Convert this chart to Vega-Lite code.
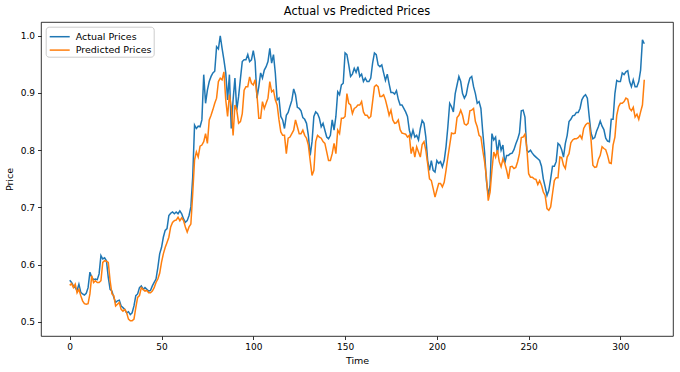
{
"$schema":"https://vega.github.io/schema/vega-lite/v6.json",
"width":632,"height":314,
"autosize":{"type":"none"},
"padding":{"left":41,"top":22,"right":7,"bottom":36},
"background":"white",
"title":{"text":"Actual vs Predicted Prices","font":"DejaVu Sans","fontSize":11.4,"fontWeight":"normal","offset":5,"color":"black"},
"config":{"view":{"stroke":"black","strokeWidth":0.8},"axis":{"grid":false,"domain":false,"tickColor":"black","tickSize":3.5,"tickWidth":0.8,"labelFont":"DejaVu Sans","labelFontSize":9,"labelColor":"black","labelPadding":3,"titleFont":"DejaVu Sans","titleFontSize":9.5,"titleFontWeight":"normal","titleColor":"black"}},
"data":{"values":[
{"t":0,"a":0.573,"p":0.564},{"t":1,"a":0.569,"p":0.567},{"t":2,"a":0.563,"p":0.560},{"t":3,"a":0.560,"p":0.566},{"t":4,"a":0.555,"p":0.551},{"t":5,"a":0.566,"p":0.557},{"t":6,"a":0.552,"p":0.546},{"t":7,"a":0.549,"p":0.537},{"t":8,"a":0.547,"p":0.532},{"t":9,"a":0.550,"p":0.531},
{"t":10,"a":0.560,"p":0.532},{"t":11,"a":0.587,"p":0.549},{"t":12,"a":0.578,"p":0.581},{"t":13,"a":0.574,"p":0.569},{"t":14,"a":0.575,"p":0.572},{"t":15,"a":0.574,"p":0.569},{"t":16,"a":0.584,"p":0.569},{"t":17,"a":0.616,"p":0.572},{"t":18,"a":0.610,"p":0.604},{"t":19,"a":0.612,"p":0.607},
{"t":20,"a":0.607,"p":0.606},{"t":21,"a":0.578,"p":0.604},{"t":22,"a":0.557,"p":0.572},{"t":23,"a":0.554,"p":0.549},{"t":24,"a":0.543,"p":0.546},{"t":25,"a":0.534,"p":0.528},{"t":26,"a":0.537,"p":0.531},{"t":27,"a":0.538,"p":0.534},{"t":28,"a":0.528,"p":0.522},{"t":29,"a":0.525,"p":0.519},
{"t":30,"a":0.522,"p":0.522},{"t":31,"a":0.516,"p":0.516},{"t":32,"a":0.518,"p":0.505},{"t":33,"a":0.513,"p":0.502},{"t":34,"a":0.516,"p":0.502},{"t":35,"a":0.528,"p":0.505},{"t":36,"a":0.546,"p":0.525},{"t":37,"a":0.549,"p":0.543},{"t":38,"a":0.560,"p":0.546},{"t":39,"a":0.563,"p":0.560},
{"t":40,"a":0.557,"p":0.557},{"t":41,"a":0.560,"p":0.554},{"t":42,"a":0.557,"p":0.555},{"t":43,"a":0.554,"p":0.551},{"t":44,"a":0.555,"p":0.551},{"t":45,"a":0.563,"p":0.554},{"t":46,"a":0.569,"p":0.560},{"t":47,"a":0.575,"p":0.569},{"t":48,"a":0.595,"p":0.575},{"t":49,"a":0.619,"p":0.585},
{"t":50,"a":0.630,"p":0.604},{"t":51,"a":0.648,"p":0.619},{"t":52,"a":0.660,"p":0.630},{"t":53,"a":0.663,"p":0.639},{"t":54,"a":0.686,"p":0.648},{"t":55,"a":0.690,"p":0.666},{"t":56,"a":0.692,"p":0.674},{"t":57,"a":0.689,"p":0.677},{"t":58,"a":0.692,"p":0.678},{"t":59,"a":0.689,"p":0.683},
{"t":60,"a":0.694,"p":0.677},{"t":61,"a":0.689,"p":0.682},{"t":62,"a":0.680,"p":0.677},{"t":63,"a":0.674,"p":0.666},{"t":64,"a":0.677,"p":0.657},{"t":65,"a":0.686,"p":0.666},{"t":66,"a":0.701,"p":0.671},{"t":67,"a":0.753,"p":0.724},{"t":68,"a":0.844,"p":0.783},{"t":69,"a":0.838,"p":0.797},
{"t":70,"a":0.842,"p":0.788},{"t":71,"a":0.841,"p":0.807},{"t":72,"a":0.853,"p":0.809},{"t":73,"a":0.932,"p":0.815},{"t":74,"a":0.882,"p":0.829},{"t":75,"a":0.905,"p":0.812},{"t":76,"a":0.920,"p":0.853},{"t":77,"a":0.929,"p":0.861},{"t":78,"a":0.935,"p":0.871},{"t":79,"a":0.938,"p":0.882},
{"t":80,"a":0.981,"p":0.891},{"t":81,"a":0.977,"p":0.920},{"t":82,"a":1.000,"p":0.926},{"t":83,"a":0.978,"p":0.923},{"t":84,"a":0.958,"p":0.937},{"t":85,"a":0.935,"p":0.888},{"t":86,"a":0.888,"p":0.859},{"t":87,"a":0.932,"p":0.897},{"t":88,"a":0.838,"p":0.876},{"t":89,"a":0.888,"p":0.826},
{"t":90,"a":0.926,"p":0.879},{"t":91,"a":0.870,"p":0.870},{"t":92,"a":0.894,"p":0.847},{"t":93,"a":0.925,"p":0.850},{"t":94,"a":0.955,"p":0.864},{"t":95,"a":0.958,"p":0.905},{"t":96,"a":0.958,"p":0.911},{"t":97,"a":0.967,"p":0.911},{"t":98,"a":0.955,"p":0.928},{"t":99,"a":0.958,"p":0.917},
{"t":100,"a":0.974,"p":0.914},{"t":101,"a":0.955,"p":0.923},{"t":102,"a":0.891,"p":0.897},{"t":103,"a":0.911,"p":0.856},{"t":104,"a":0.935,"p":0.856},{"t":105,"a":0.926,"p":0.885},{"t":106,"a":0.940,"p":0.873},{"t":107,"a":0.946,"p":0.882},{"t":108,"a":0.955,"p":0.891},{"t":109,"a":0.978,"p":0.920},
{"t":110,"a":0.952,"p":0.902},{"t":111,"a":0.967,"p":0.905},{"t":112,"a":0.935,"p":0.888},{"t":113,"a":0.888,"p":0.879},{"t":114,"a":0.891,"p":0.853},{"t":115,"a":0.859,"p":0.832},{"t":116,"a":0.853,"p":0.826},{"t":117,"a":0.838,"p":0.826},{"t":118,"a":0.861,"p":0.794},{"t":119,"a":0.866,"p":0.821},
{"t":120,"a":0.877,"p":0.823},{"t":121,"a":0.887,"p":0.829},{"t":122,"a":0.907,"p":0.835},{"t":123,"a":0.897,"p":0.853},{"t":124,"a":0.875,"p":0.841},{"t":125,"a":0.873,"p":0.829},{"t":126,"a":0.869,"p":0.829},{"t":127,"a":0.857,"p":0.835},{"t":128,"a":0.854,"p":0.826},{"t":129,"a":0.847,"p":0.821},
{"t":130,"a":0.826,"p":0.809},{"t":131,"a":0.791,"p":0.782},{"t":132,"a":0.815,"p":0.756},{"t":133,"a":0.859,"p":0.765},{"t":134,"a":0.867,"p":0.815},{"t":135,"a":0.864,"p":0.826},{"t":136,"a":0.856,"p":0.823},{"t":137,"a":0.841,"p":0.821},{"t":138,"a":0.847,"p":0.815},{"t":139,"a":0.835,"p":0.812},
{"t":140,"a":0.823,"p":0.797},{"t":141,"a":0.820,"p":0.782},{"t":142,"a":0.826,"p":0.782},{"t":143,"a":0.853,"p":0.794},{"t":144,"a":0.835,"p":0.812},{"t":145,"a":0.859,"p":0.794},{"t":146,"a":0.902,"p":0.835},{"t":147,"a":0.897,"p":0.829},{"t":148,"a":0.914,"p":0.856},{"t":149,"a":0.917,"p":0.856},
{"t":150,"a":0.970,"p":0.859},{"t":151,"a":0.967,"p":0.899},{"t":152,"a":0.949,"p":0.882},{"t":153,"a":0.929,"p":0.879},{"t":154,"a":0.933,"p":0.864},{"t":155,"a":0.943,"p":0.873},{"t":156,"a":0.936,"p":0.875},{"t":157,"a":0.946,"p":0.879},{"t":158,"a":0.929,"p":0.879},{"t":159,"a":0.933,"p":0.885},
{"t":160,"a":0.920,"p":0.867},{"t":161,"a":0.926,"p":0.861},{"t":162,"a":0.920,"p":0.861},{"t":163,"a":0.920,"p":0.856},{"t":164,"a":0.926,"p":0.859},{"t":165,"a":0.952,"p":0.885},{"t":166,"a":0.970,"p":0.911},{"t":167,"a":0.967,"p":0.914},{"t":168,"a":0.949,"p":0.911},{"t":169,"a":0.946,"p":0.894},
{"t":170,"a":0.949,"p":0.894},{"t":171,"a":0.935,"p":0.897},{"t":172,"a":0.922,"p":0.888},{"t":173,"a":0.933,"p":0.875},{"t":174,"a":0.916,"p":0.861},{"t":175,"a":0.901,"p":0.870},{"t":176,"a":0.901,"p":0.853},{"t":177,"a":0.898,"p":0.847},{"t":178,"a":0.904,"p":0.848},{"t":179,"a":0.889,"p":0.853},
{"t":180,"a":0.879,"p":0.836},{"t":181,"a":0.879,"p":0.830},{"t":182,"a":0.873,"p":0.829},{"t":183,"a":0.867,"p":0.828},{"t":184,"a":0.859,"p":0.823},{"t":185,"a":0.835,"p":0.826},{"t":186,"a":0.823,"p":0.794},{"t":187,"a":0.835,"p":0.806},{"t":188,"a":0.823,"p":0.788},{"t":189,"a":0.826,"p":0.806},
{"t":190,"a":0.818,"p":0.797},{"t":191,"a":0.838,"p":0.788},{"t":192,"a":0.852,"p":0.810},{"t":193,"a":0.847,"p":0.815},{"t":194,"a":0.823,"p":0.800},{"t":195,"a":0.782,"p":0.776},{"t":196,"a":0.765,"p":0.750},{"t":197,"a":0.782,"p":0.747},{"t":198,"a":0.765,"p":0.733},{"t":199,"a":0.762,"p":0.718},
{"t":200,"a":0.782,"p":0.730},{"t":201,"a":0.777,"p":0.742},{"t":202,"a":0.780,"p":0.742},{"t":203,"a":0.771,"p":0.736},{"t":204,"a":0.782,"p":0.744},{"t":205,"a":0.806,"p":0.765},{"t":206,"a":0.841,"p":0.788},{"t":207,"a":0.882,"p":0.809},{"t":208,"a":0.876,"p":0.830},{"t":209,"a":0.867,"p":0.829},
{"t":210,"a":0.899,"p":0.830},{"t":211,"a":0.914,"p":0.857},{"t":212,"a":0.929,"p":0.861},{"t":213,"a":0.920,"p":0.870},{"t":214,"a":0.899,"p":0.861},{"t":215,"a":0.891,"p":0.846},{"t":216,"a":0.897,"p":0.844},{"t":217,"a":0.914,"p":0.847},{"t":218,"a":0.926,"p":0.869},{"t":219,"a":0.929,"p":0.870},
{"t":220,"a":0.911,"p":0.873},{"t":221,"a":0.899,"p":0.850},{"t":222,"a":0.882,"p":0.841},{"t":223,"a":0.885,"p":0.826},{"t":224,"a":0.873,"p":0.823},{"t":225,"a":0.832,"p":0.800},{"t":226,"a":0.797,"p":0.780},{"t":227,"a":0.747,"p":0.753},{"t":228,"a":0.721,"p":0.712},{"t":229,"a":0.739,"p":0.727},
{"t":230,"a":0.829,"p":0.765},{"t":231,"a":0.818,"p":0.797},{"t":232,"a":0.823,"p":0.788},{"t":233,"a":0.794,"p":0.800},{"t":234,"a":0.818,"p":0.780},{"t":235,"a":0.800,"p":0.771},{"t":236,"a":0.809,"p":0.785},{"t":237,"a":0.777,"p":0.777},{"t":238,"a":0.791,"p":0.765},{"t":239,"a":0.791,"p":0.750},
{"t":240,"a":0.794,"p":0.771},{"t":241,"a":0.795,"p":0.772},{"t":242,"a":0.801,"p":0.768},{"t":243,"a":0.811,"p":0.770},{"t":244,"a":0.819,"p":0.780},{"t":245,"a":0.830,"p":0.794},{"t":246,"a":0.869,"p":0.822},{"t":247,"a":0.870,"p":0.823},{"t":248,"a":0.858,"p":0.828},{"t":249,"a":0.800,"p":0.805},
{"t":250,"a":0.797,"p":0.759},{"t":251,"a":0.800,"p":0.753},{"t":252,"a":0.795,"p":0.753},{"t":253,"a":0.791,"p":0.750},{"t":254,"a":0.788,"p":0.749},{"t":255,"a":0.785,"p":0.740},{"t":256,"a":0.782,"p":0.747},{"t":257,"a":0.772,"p":0.739},{"t":258,"a":0.750,"p":0.727},{"t":259,"a":0.736,"p":0.721},
{"t":260,"a":0.721,"p":0.698},{"t":261,"a":0.730,"p":0.695},{"t":262,"a":0.750,"p":0.701},{"t":263,"a":0.772,"p":0.724},{"t":264,"a":0.772,"p":0.747},{"t":265,"a":0.780,"p":0.752},{"t":266,"a":0.812,"p":0.752},{"t":267,"a":0.809,"p":0.788},{"t":268,"a":0.801,"p":0.787},{"t":269,"a":0.788,"p":0.774},
{"t":270,"a":0.812,"p":0.768},{"t":271,"a":0.826,"p":0.788},{"t":272,"a":0.850,"p":0.794},{"t":273,"a":0.854,"p":0.813},{"t":274,"a":0.860,"p":0.818},{"t":275,"a":0.861,"p":0.820},{"t":276,"a":0.866,"p":0.820},{"t":277,"a":0.866,"p":0.822},{"t":278,"a":0.873,"p":0.826},{"t":279,"a":0.888,"p":0.820},
{"t":280,"a":0.894,"p":0.838},{"t":281,"a":0.897,"p":0.844},{"t":282,"a":0.891,"p":0.847},{"t":283,"a":0.859,"p":0.847},{"t":284,"a":0.830,"p":0.818},{"t":285,"a":0.820,"p":0.774},{"t":286,"a":0.822,"p":0.770},{"t":287,"a":0.833,"p":0.771},{"t":288,"a":0.841,"p":0.784},{"t":289,"a":0.851,"p":0.791},
{"t":290,"a":0.842,"p":0.806},{"t":291,"a":0.836,"p":0.803},{"t":292,"a":0.821,"p":0.801},{"t":293,"a":0.816,"p":0.791},{"t":294,"a":0.815,"p":0.778},{"t":295,"a":0.854,"p":0.777},{"t":296,"a":0.854,"p":0.809},{"t":297,"a":0.899,"p":0.823},{"t":298,"a":0.922,"p":0.861},{"t":299,"a":0.920,"p":0.876},
{"t":300,"a":0.920,"p":0.882},{"t":301,"a":0.935,"p":0.882},{"t":302,"a":0.932,"p":0.885},{"t":303,"a":0.937,"p":0.891},{"t":304,"a":0.939,"p":0.889},{"t":305,"a":0.920,"p":0.873},{"t":306,"a":0.911,"p":0.869},{"t":307,"a":0.923,"p":0.875},{"t":308,"a":0.911,"p":0.858},{"t":309,"a":0.911,"p":0.863},
{"t":310,"a":0.920,"p":0.854},{"t":311,"a":0.940,"p":0.867},{"t":312,"a":0.993,"p":0.879},{"t":313,"a":0.986,"p":0.923}
]},
"transform":[{"fold":["a","p"],"as":["series","price"]}],
"mark":{"type":"line","strokeWidth":1.5,"clip":true},
"encoding":{
"x":{"field":"t","type":"quantitative","scale":{"domain":[-15.65,328.65],"nice":false,"zero":false},"axis":{"values":[0,50,100,150,200,250,300],"title":"Time","titlePadding":4}},
"y":{"field":"price","type":"quantitative","scale":{"domain":[0.4755,1.024],"nice":false,"zero":false},"axis":{"values":[0.5,0.6,0.7,0.8,0.9,1.0],"format":".1f","title":"Price","titlePadding":6}},
"color":{"field":"series","type":"nominal","scale":{"domain":["a","p"],"range":["#1f77b4","#ff7f0e"]},"legend":{"title":null,"orient":"none","legendX":4.7,"legendY":4.7,"labelExpr":"datum.label == 'a' ? 'Actual Prices' : 'Predicted Prices'","symbolType":"M-1.43,0H1.43","symbolSize":196,"symbolStrokeWidth":1.5,"symbolOffset":4,"labelOffset":8,"labelFont":"DejaVu Sans","labelFontSize":9.5,"labelColor":"black","fillColor":"white","strokeColor":"#cccccc","cornerRadius":3,"padding":2,"rowPadding":0.4}},
"order":{"field":"series"}
}
}
